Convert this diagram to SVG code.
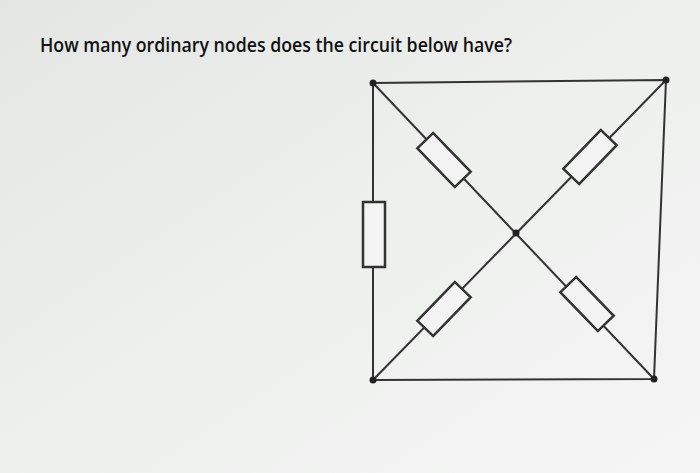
<svg xmlns="http://www.w3.org/2000/svg" width="700" height="473" viewBox="0 0 700 473">
<defs>
<linearGradient id="bg" x1="0" y1="0" x2="1" y2="1">
<stop offset="0" stop-color="#e4e6e3"/><stop offset="0.5" stop-color="#eef0ee"/><stop offset="1" stop-color="#f4f5f4"/>
</linearGradient>
<style>
.w{stroke:#333;stroke-width:2;fill:none}
.r{stroke:#333;stroke-width:2.5;fill:#f2f3f2}
.n{fill:#222}
</style>
</defs>
<rect width="700" height="473" fill="url(#bg)"/>
<text x="40" y="52" font-family="Open Sans, sans-serif" font-size="19" font-weight="600" fill="#111" textLength="472" lengthAdjust="spacingAndGlyphs">How many ordinary nodes does the circuit below have?</text>
<g id="connectors">
<polyline class="w" points="373,83 666,80 654,379 373,380 373,83"/>
<line class="w" x1="373" y1="83" x2="654" y2="379"/>
<line class="w" x1="666" y1="80" x2="373" y2="380"/>
</g>
<g id="R1"><rect class="r" x="363" y="202" width="22" height="65"/></g>
<g id="R2"><rect class="r" x="-27" y="-11" width="54" height="22" transform="translate(444,160) rotate(46)"/></g>
<g id="R3"><rect class="r" x="-27" y="-11" width="54" height="22" transform="translate(590,157) rotate(-46)"/></g>
<g id="R4"><rect class="r" x="-27" y="-11" width="54" height="22" transform="translate(444,309) rotate(-46)"/></g>
<g id="R5"><rect class="r" x="-27" y="-11" width="54" height="22" transform="translate(587,304) rotate(46)"/></g>
<g id="nodes">
<circle class="n" cx="373" cy="83" r="3.5"/>
<circle class="n" cx="666" cy="80" r="3.5"/>
<circle class="n" cx="373" cy="380" r="3.5"/>
<circle class="n" cx="654" cy="379" r="3.5"/>
<circle class="n" cx="516" cy="233" r="3.5"/>
</g>
</svg>
